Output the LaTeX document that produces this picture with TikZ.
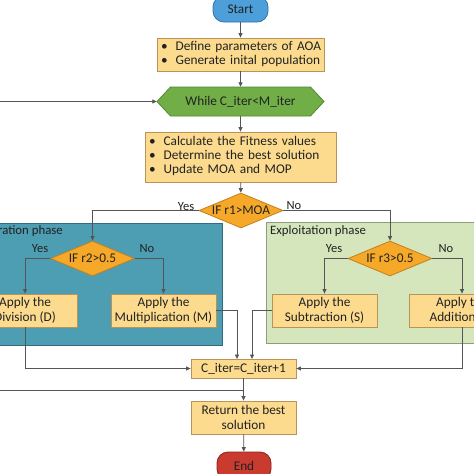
\documentclass[tikz,border=0pt]{standalone}
\usepackage{fontspec}
\setmainfont{Carlito}
\usetikzlibrary{arrows.meta,shapes.geometric}
\definecolor{boxfill}{HTML}{FCDB8E}
\definecolor{boxline}{HTML}{B8935A}
\definecolor{dfill}{HTML}{F6A829}
\definecolor{dline}{HTML}{C2801F}
\definecolor{hexfill}{HTML}{72AE48}
\definecolor{hexline}{HTML}{4F8A33}
\definecolor{startfill}{HTML}{4C9FD8}
\definecolor{startline}{HTML}{2E74AE}
\definecolor{endfill}{HTML}{C93A2F}
\definecolor{endline}{HTML}{8E241B}
\definecolor{bluepanel}{HTML}{4D9DB3}
\definecolor{bluepanelline}{HTML}{2F6E80}
\definecolor{greenpanel}{HTML}{D5E6BC}
\definecolor{greenpanelline}{HTML}{8C9C7C}
\definecolor{conn}{HTML}{555555}
\definecolor{txt}{HTML}{222222}
\tikzset{
  every node/.style={text=txt, font=\fontsize{13.3}{14.5}\selectfont},
  procbox/.style={rectangle, draw=boxline, fill=boxfill, line width=0.8pt, minimum width=105pt, minimum height=33pt, inner sep=1pt, align=center},
  listbox/.style={rectangle, draw=boxline, fill=boxfill, line width=0.8pt, inner xsep=4pt, inner ysep=0pt, align=left},
  decide/.style={diamond, draw=dline, fill=dfill, line width=0.8pt, minimum width=84pt, minimum height=35pt, inner sep=0pt, shape aspect=2.4},
  term/.style={rectangle, rounded corners=11pt, line width=0.8pt, minimum width=55pt, minimum height=26pt, inner sep=0pt},
  conn/.style={draw=conn, line width=0.8pt, -{Triangle[length=4.5pt,width=4pt]}},
  lbl/.style={font=\fontsize{12.5}{13}\selectfont, inner sep=0pt},
  phase/.style={font=\fontsize{12.8}{14}\selectfont, inner sep=0pt},
}
\begin{document}
\begin{tikzpicture}[x=1pt,y=-1pt]
\clip (0,0) rectangle (474,474);
\fill[white] (0,0) rectangle (474,474);
% panels
\node[rectangle, draw=bluepanelline, fill=bluepanel, line width=0.8pt, minimum width=227pt, minimum height=122pt, inner sep=0pt] (bp) at (108.5,284) {};
\node[rectangle, draw=greenpanelline, fill=greenpanel, line width=0.8pt, minimum width=214pt, minimum height=121pt, inner sep=0pt] (gp) at (373,282.5) {};
\node[phase, anchor=east] (bpl) at (63,231.5) {Exploration phase};
\node[phase, anchor=west] (gpl) at (270,231.5) {Exploitation phase};
% nodes
\node[term, fill=startfill, draw=startline] (start) at (240.5,9) {Start};
\node[listbox, text width=159pt, minimum height=33pt] (b1) at (240.5,54.5) {\begin{tabular}{@{}l@{\hspace{8pt}}l@{}}\textbullet & Define parameters of AOA\\ \textbullet & Generate inital population\end{tabular}};
\path[draw=hexline, fill=hexfill, line width=0.8pt] (157,101.5) -- (170.5,87) -- (310.5,87) -- (324,101.5) -- (310.5,116) -- (170.5,116) -- cycle;
\node[rectangle, minimum width=167pt, minimum height=29pt, inner sep=0pt] (hex) at (240.5,101.5) {While C\_iter<M\_iter};
\node[listbox, text width=183pt, minimum height=50pt] (b2) at (240.5,157) {\begin{tabular}{@{}l@{\hspace{8pt}}l@{}}\textbullet & Calculate the Fitness values\\[-0.5pt] \textbullet & Determine the best solution\\[-0.5pt] \textbullet & Update MOA and MOP\end{tabular}};
\node[decide] (d1) at (241,210.5) {IF r1>MOA};
\node[decide] (d2) at (92.5,258.5) {IF r2>0.5};
\node[decide] (d3) at (390,258.5) {IF r3>0.5};
\node[procbox] (div) at (25,310.5) {Apply the\\Division (D)};
\node[procbox] (mult) at (163.5,310.5) {Apply the\\Multiplication (M)};
\node[procbox] (sub) at (324.5,310.5) {Apply the\\Subtraction (S)};
\node[procbox] (add) at (462,310.5) {Apply the\\Addition (A)};
\node[procbox, minimum height=19pt] (citer) at (243.5,368.5) {C\_iter=C\_iter+1};
\node[procbox] (ret) at (243.5,417.5) {Return the best\\solution};
\node[term, fill=endfill, draw=endline, minimum width=54pt, minimum height=28pt] (end) at (244,466) {End};
% labels
\node[lbl] (y1) at (186,206.5) {Yes};
\node[lbl] (n1) at (294,206) {No};
\node[lbl] (y2) at (40,249) {Yes};
\node[lbl] (n2) at (147,249) {No};
\node[lbl] (y3) at (334,249) {Yes};
\node[lbl] (n3) at (446,249) {No};
% connectors
\draw[conn] (start) -- (b1);
\draw[conn] (b1) -- (hex);
\draw[conn] (hex) -- (b2);
\draw[conn] (b2) -- (d1);
\draw[conn] (d1.west) -| (d2.north);
\draw[conn] (d1.east) -| (d3.north);
\draw[conn] (d2.west) -| (div.north);
\draw[conn] (d2.east) -| (mult.north);
\draw[conn] (d3.west) -| (sub.north);
\draw[conn] (d3.east) -| (add.north);
\coordinate (cin1) at (237,359);
\coordinate (cin2) at (252,359);
\draw[conn] (mult.east) -| (cin1);
\draw[conn] (sub.west) -| (cin2);
\draw[conn] (div.south) |- (citer.west);
\draw[conn] (add.south) |- (citer.east);
\draw[conn] (citer) -- (ret);
\draw[conn] (ret) -- (end);
\coordinate (j) at (243.5,390);
\coordinate (lb) at (-8,390);
\coordinate (lt) at (-8,101.5);
\draw[conn] (j) -- (lb) -- (lt) -- (hex.west);
\end{tikzpicture}
\end{document}
